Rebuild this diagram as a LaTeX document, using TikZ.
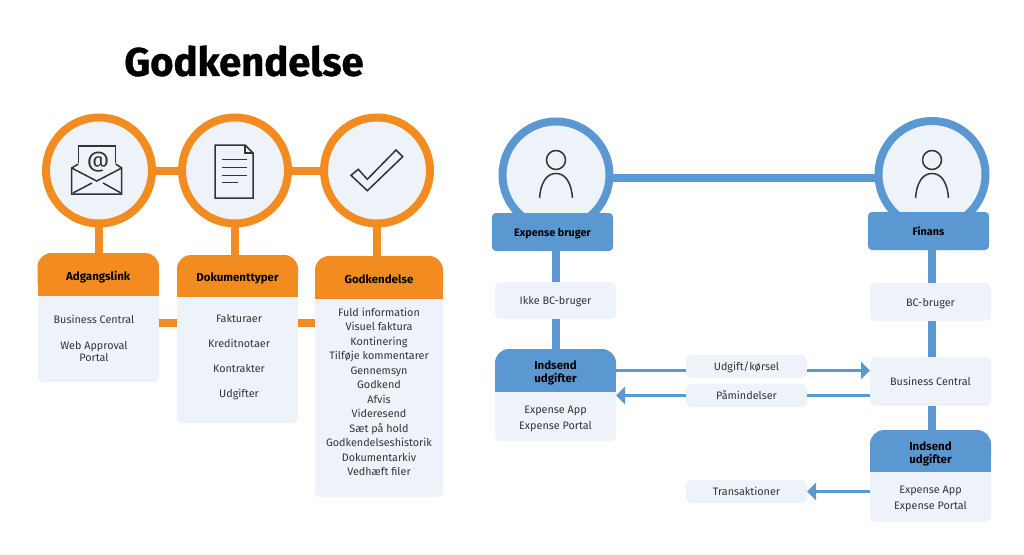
\documentclass[tikz,border=0pt]{standalone}
\usepackage{fontspec}
\setmainfont{Fira Sans}
\newfontfamily\titlefont[BoldFeatures={FakeBold=1.0}]{Fira Sans}
\usetikzlibrary{arrows.meta,backgrounds,positioning}
\definecolor{approvalorange}{HTML}{F28C20}
\definecolor{expenseblue}{HTML}{5B97D0}
\definecolor{panelgrey}{HTML}{EEF3FA}
\definecolor{icongrey}{HTML}{333333}

\begin{document}
\begin{tikzpicture}[x=1pt,y=-1pt,
  every node/.style={inner sep=0pt,outer sep=0pt,text=icongrey,font=\fontsize{10.8}{12}\selectfont,align=center},
  orangering/.style={circle,draw=approvalorange,line width=8pt,fill=panelgrey,minimum size=106pt},
  bluering/.style={circle,draw=expenseblue,line width=8pt,fill=panelgrey,minimum size=107pt},
  headcard/.style={font=\fontsize{11.5}{13}\selectfont\bfseries,text=black,
    append after command={\pgfextra{\begin{pgfonlayer}{background}
      \fill[#1,rounded corners=14pt] (\tikzlastnode.south west) rectangle (\tikzlastnode.north east);
      \fill[#1] (\tikzlastnode.south west) rectangle ([yshift=18pt]\tikzlastnode.south east);
    \end{pgfonlayer}}}},
  oneline/.style={text height=13pt,text depth=2pt},
  bodycard/.style={
    append after command={\pgfextra{\begin{pgfonlayer}{background}
      \fill[panelgrey,rounded corners=5pt] (\tikzlastnode.south west) rectangle (\tikzlastnode.north east);
      \fill[panelgrey] (\tikzlastnode.north west) rectangle ([yshift=8pt]\tikzlastnode.south east);
    \end{pgfonlayer}}}},
  panel/.style={fill=panelgrey,rounded corners=5pt,text height=10pt,text depth=2pt},
  rolebox/.style={fill=expenseblue,rounded corners=4pt,text=black,text height=11pt,text depth=2pt,font=\fontsize{10.8}{12}\selectfont\bfseries},
  orangelink/.style={draw=approvalorange,line width=8pt},
  bluelink/.style={draw=expenseblue,line width=8pt},
  flow/.style={draw=expenseblue,line width=3pt},
  flowarrow/.style={flow,-{Triangle[length=9pt,width=17pt]}},
  icon/.style={draw=icongrey,line width=1.5pt,line join=miter},
  person/.pic={
    \draw[icon] (0,-15) circle (9.5pt);
    \draw[icon] (-16.5,23) .. controls (-15,5) and (-8,-1.5) .. (0,-1.5) .. controls (8,-1.5) and (15,5) .. (16.5,23);
  }]

\node(title) at (244,61) [font=\fontsize{40}{44}\titlefont\bfseries,text=black] {Godkendelse};

\coordinate (listrow) at (0,323);
\coordinate (toprow) at (0,178);

\node(mail)[orangering] at (99,170.5) {};
\node(doc)[orangering] at (235,170.5) {};
\node(check)[orangering] at (377,170.5) {};

\node(adghead)[headcard=approvalorange,oneline,minimum width=121.5pt,minimum height=43pt] at (98.25,274.5) {Adgangslink};
\node(dokhead)[headcard=approvalorange,oneline,minimum width=121pt,minimum height=42pt] at (237.5,276) {Dokumenttyper};
\node(godhead)[headcard=approvalorange,oneline,minimum width=128pt,minimum height=43pt] at (379,277.5) {Godkendelse};

\node(adgbody)[bodycard,minimum width=121.5pt,minimum height=86pt] at (98.25,339) {};
\node(dokbody)[bodycard,minimum width=121pt,minimum height=126pt] at (237.5,360) {};
\node(godbody)[bodycard,minimum width=128pt,minimum height=198pt] at (379,398) {};

\node(adglist) at (94,338) {Business Central\\[14pt]Web Approval\\Portal};
\node(doklist) at (239,357.5) {Fakturaer\\[13pt]Kreditnotaer\\[13pt]Kontrakter\\[13pt]Udgifter};
\node(godlist) at (379,392) {Fuld information\\[2.5pt]Visuel faktura\\[2.5pt]Kontinering\\[2.5pt]Tilføje kommentarer\\[2.5pt]Gennemsyn\\[2.5pt]Godkend\\[2.5pt]Afvis\\[2.5pt]Videresend\\[2.5pt]Sæt på hold\\[2.5pt]Godkendelseshistorik\\[2.5pt]Dokumentarkiv\\[2.5pt]Vedhæft filer};

\draw [orangelink] (mail) to (doc);
\draw [orangelink] (doc) to (check);
\draw [orangelink] (mail.south) to (mail.south |- adghead.north);
\draw [orangelink] (doc.south) to (doc.south |- dokhead.north);
\draw [orangelink] (check.south) to (check.south |- godhead.north);
\draw [orangelink] (adgbody.east |- listrow) to (dokbody.west |- listrow);
\draw [orangelink] (dokbody.east |- listrow) to (godbody.west |- listrow);

\node(at)[font=\fontsize{22}{22}\selectfont] at (98,162) {@};
\draw [icon] (78.3,163) -- (78.3,146) -- (115.7,146) -- (115.7,163);
\draw [icon] (78.3,164) -- (71.7,168) -- (71.7,194) -- (121.7,194) -- (121.7,168) -- (115.7,164);
\draw [icon] (71.7,168) -- (96.7,181) -- (121.7,168);
\draw [icon] (73,193) -- (92,183);
\draw [icon] (103,183) -- (121,193);

\draw [icon] (215,145) -- (245,145) -- (253,153) -- (253,198) -- (215,198) -- cycle;
\draw [icon] (245,145) -- (245,153) -- (253,153);
\draw [icon] (222,159.3) -- (247,159.3);
\draw [icon] (222,167.3) -- (247,167.3);
\draw [icon] (222,175.3) -- (247,175.3);
\draw [icon] (222,182.7) -- (238,182.7);

\draw [icon] (351,175.3) -- (358.3,169.3) -- (367.3,179.3) -- (396,150) -- (402.7,156.7) -- (367.3,190.7) -- cycle;

\node(usera)[bluering] at (556,175) {};
\node(userb)[bluering] at (932,174.5) {};
\pic at (556,175) {person};
\pic at (932,175) {person};

\node(expense)[rolebox,minimum width=121pt,minimum height=38pt] at (552.5,232) {Expense bruger};
\node(finans)[rolebox,minimum width=121pt,minimum height=38pt] at (928.5,231) {Finans};

\node(ikkebc)[panel,minimum width=121pt,minimum height=37pt] at (555.5,300.5) {Ikke BC-bruger};
\node(bcbruger)[panel,minimum width=121pt,minimum height=38pt] at (930.5,302) {BC-bruger};

\node(indsenda)[headcard=expenseblue,minimum width=121pt,minimum height=43pt] at (555.5,370.5) {\rule{0pt}{14pt}Indsend\\udgifter};
\node(expbodya)[bodycard,minimum width=121pt,minimum height=49pt] at (555.5,416.5) {\rule{0pt}{11.5pt}Expense App\\[4pt]Expense Portal};

\node(bc)[panel,minimum width=121pt,minimum height=49pt] at (930.5,381.5) {Business Central};

\node(indsendb)[headcard=expenseblue,minimum width=121pt,minimum height=42pt] at (930.5,451) {\rule{0pt}{14pt}Indsend\\udgifter};
\node(expbodyb)[bodycard,minimum width=121pt,minimum height=50pt] at (930.5,497) {\rule{0pt}{11.5pt}Expense App\\[4pt]Expense Portal};

\node(udgift)[panel,minimum width=121pt,minimum height=23pt] at (746.5,366.5) {Udgift/kørsel};
\node(paamind)[panel,minimum width=121pt,minimum height=23pt] at (746.5,395.5) {Påmindelser};
\node(transak)[panel,minimum width=121pt,minimum height=23pt] at (746.5,491.5) {Transaktioner};

\draw [bluelink] (usera.east |- toprow) to (userb.west |- toprow);
\draw [bluelink] (expense.south -| usera) to (ikkebc.north -| usera);
\draw [bluelink] (ikkebc.south -| usera) to (indsenda.north -| usera);
\draw [bluelink] (finans.south -| userb) to (bcbruger.north -| userb);
\draw [bluelink] (bcbruger.south -| userb) to (bc.north -| userb);
\draw [bluelink] (bc.south -| userb) to (indsendb.north -| userb);

\draw [flow] (indsenda.east) to (indsenda.east -| udgift.west);
\draw [flowarrow] (indsenda.east -| udgift.east) to (indsenda.east -| bc.west);
\draw [flow] (paamind.east -| bc.west) to (paamind.east);
\draw [flowarrow] (paamind.west) to (paamind.west -| indsenda.east);
\draw [flowarrow] (transak.east -| expbodyb.west) to (transak.east);

\useasboundingbox (0,0) rectangle (1024,554);
\end{tikzpicture}
\end{document}
